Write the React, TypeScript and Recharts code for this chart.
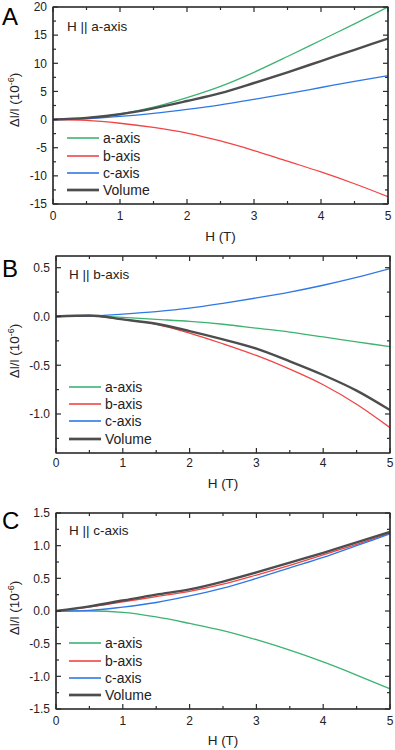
import React from "react";
import { LineChart, Line, XAxis, YAxis, Legend } from "recharts";

// ---------------------------------------------------------------------------
// Data
// ---------------------------------------------------------------------------

const fieldT = [0, 0.5, 1, 1.5, 2, 2.5, 3, 3.5, 4, 4.5, 5];
const xTicks = [0, 0.5, 1, 1.5, 2, 2.5, 3, 3.5, 4, 4.5, 5];

// Panel A: H || a-axis
const aAxisA = [0, 0.3, 1.0, 2.2, 3.9, 5.9, 8.4, 11.2, 14.1, 17.0, 20.0];
const bAxisA = [0, -0.15, -0.65, -1.4, -2.4, -3.8, -5.5, -7.4, -9.3, -11.4, -13.7];
const cAxisA = [0, 0.15, 0.55, 1.1, 1.8, 2.6, 3.6, 4.6, 5.7, 6.8, 7.8];
const volumeA = [0, 0.3, 0.95, 2.0, 3.3, 4.7, 6.5, 8.4, 10.4, 12.4, 14.4];
const yTicksA = [-15, -12.5, -10, -7.5, -5, -2.5, 0, 2.5, 5, 7.5, 10, 12.5, 15, 17.5, 20];

// Panel B: H || b-axis
const aAxisB = [0, 0.005, -0.01, -0.03, -0.05, -0.08, -0.12, -0.16, -0.21, -0.26, -0.31];
const bAxisB = [0, 0.005, -0.03, -0.08, -0.17, -0.28, -0.4, -0.54, -0.7, -0.9, -1.14];
const cAxisB = [0, 0.005, 0.025, 0.05, 0.085, 0.135, 0.19, 0.25, 0.32, 0.4, 0.49];
const volumeB = [0, 0.01, -0.03, -0.075, -0.15, -0.235, -0.33, -0.46, -0.6, -0.76, -0.96];
const yTicksB = [-1.25, -1, -0.75, -0.5, -0.25, 0, 0.25, 0.5];

// Panel C: H || c-axis
const aAxisC = [0, 0, -0.02, -0.09, -0.19, -0.3, -0.44, -0.6, -0.78, -0.98, -1.19];
const bAxisC = [0, 0.06, 0.14, 0.22, 0.3, 0.41, 0.55, 0.7, 0.86, 1.02, 1.19];
const cAxisC = [0, 0.01, 0.06, 0.13, 0.23, 0.35, 0.5, 0.66, 0.82, 1.0, 1.18];
const volumeC = [0, 0.07, 0.16, 0.25, 0.33, 0.45, 0.59, 0.74, 0.89, 1.05, 1.21];
const yTicksC = [-1.5, -1.25, -1, -0.75, -0.5, -0.25, 0, 0.25, 0.5, 0.75, 1, 1.25, 1.5];

const seriesInfo = [
  { key: "a", name: "a-axis", color: "#3cb371", width: 1.3 },
  { key: "b", name: "b-axis", color: "#f24444", width: 1.3 },
  { key: "c", name: "c-axis", color: "#2f78e4", width: 1.3 },
  { key: "v", name: "Volume", color: "#4d4d4d", width: 2.4 },
];

const buildRows = (a: number[], b: number[], c: number[], v: number[]) =>
  fieldT.map((h, i) => ({ h, a: a[i], b: b[i], c: c[i], v: v[i] }));

// ---------------------------------------------------------------------------
// Styling helpers
// ---------------------------------------------------------------------------

const FONT = "'Liberation Sans', Arial, Helvetica, sans-serif";
const FRAME = "#2b2b2b";
const TICK_MAJOR = 5;
const TICK_MINOR = 3;
const EDGE = 10; // size of the top / right frame axes

const isMajor = (v: number, step: number) =>
  Math.abs(v / step - Math.round(v / step)) < 1e-6;

const bottomTick = (p: any, step: number, dy: number) => {
  const v = p.payload.value;
  const major = isMajor(v, step);
  return (
    <g>
      <line x1={p.x} x2={p.x} y1={p.y} y2={p.y - (major ? TICK_MAJOR : TICK_MINOR)} stroke={FRAME} strokeWidth={1.2} />
      {major && (
        <text x={p.x} y={p.y + dy} textAnchor="middle" fontSize={12} fill="#222" fontFamily={FONT}>
          {v}
        </text>
      )}
    </g>
  );
};

const topTick = (p: any, step: number) => {
  const major = isMajor(p.payload.value, step);
  return (
    <line x1={p.x} x2={p.x} y1={p.y} y2={p.y + (major ? TICK_MAJOR : TICK_MINOR)} stroke={FRAME} strokeWidth={1.2} />
  );
};

const leftTick = (p: any, step: number, fmt: (v: number) => string) => {
  const v = p.payload.value;
  const major = isMajor(v, step);
  return (
    <g>
      <line x1={p.x} x2={p.x + (major ? TICK_MAJOR : TICK_MINOR)} y1={p.y} y2={p.y} stroke={FRAME} strokeWidth={1.2} />
      {major && (
        <text x={p.x - 6} y={p.y} dy="0.36em" textAnchor="end" fontSize={12} fill="#222" fontFamily={FONT}>
          {fmt(v)}
        </text>
      )}
    </g>
  );
};

const rightTick = (p: any, step: number) => {
  const major = isMajor(p.payload.value, step);
  return (
    <line x1={p.x} x2={p.x - (major ? TICK_MAJOR : TICK_MINOR)} y1={p.y} y2={p.y} stroke={FRAME} strokeWidth={1.2} />
  );
};

const LegendBox = () => (
  <div style={{ fontFamily: FONT, fontSize: 14, color: "#222" }}>
    {seriesInfo.map((s) => (
      <div key={s.key} style={{ display: "flex", alignItems: "center", height: 17.3 }}>
        <svg width={32} height={6}>
          <line x1={0} x2={32} y1={3} y2={3} stroke={s.color} strokeWidth={s.width + 0.3} />
        </svg>
        <span style={{ marginLeft: 4, lineHeight: 1 }}>{s.name}</span>
      </div>
    ))}
  </div>
);

// ---------------------------------------------------------------------------
// Panel
// ---------------------------------------------------------------------------

interface PanelProps {
  top: number;
  height: number;
  plotTop: number;
  plotRight: number;
  yWidth: number;
  xHeight: number;
  rows: ReturnType<typeof buildRows>;
  yDomain: [number, number];
  yTicks: number[];
  yStep: number;
  yFmt: (v: number) => string;
  xLabelDy: number;
  letter: string;
  letterBase: number;
  title: string;
  titleX: number;
  titleBase: number;
  legendLeft: number;
  legendTop: number;
  yLabelY: number;
  xLabelBase: number;
}

const Panel = (p: PanelProps) => {
  const plotLeft = p.yWidth;
  const plotBottom = p.height - p.xHeight;
  const axisLine = { stroke: FRAME, strokeWidth: 1.2 };
  return (
    <div style={{ position: "absolute", left: 0, top: p.top, width: 395, height: p.height }}>
      <LineChart
        width={395}
        height={p.height}
        data={p.rows}
        margin={{ top: p.plotTop - EDGE, right: 395 - p.plotRight - EDGE, bottom: 0, left: 0 }}
      >
        <XAxis
          dataKey="h"
          type="number"
          domain={[0, 5]}
          allowDataOverflow
          ticks={xTicks}
          interval={0}
          height={p.xHeight}
          tickSize={0}
          tickMargin={0}
          tickLine={false}
          axisLine={axisLine}
          tick={(t: any) => bottomTick(t, 1, p.xLabelDy)}
        />
        <XAxis
          xAxisId="top"
          orientation="top"
          dataKey="h"
          type="number"
          domain={[0, 5]}
          allowDataOverflow
          ticks={xTicks}
          interval={0}
          height={EDGE}
          tickSize={0}
          tickMargin={0}
          tickLine={false}
          axisLine={axisLine}
          tick={(t: any) => topTick(t, 1)}
        />
        <YAxis
          type="number"
          domain={p.yDomain}
          allowDataOverflow
          ticks={p.yTicks}
          interval={0}
          width={p.yWidth}
          tickSize={0}
          tickMargin={0}
          tickLine={false}
          axisLine={axisLine}
          tick={(t: any) => leftTick(t, p.yStep, p.yFmt)}
        />
        <YAxis
          yAxisId="right"
          orientation="right"
          type="number"
          domain={p.yDomain}
          allowDataOverflow
          ticks={p.yTicks}
          interval={0}
          width={EDGE}
          tickSize={0}
          tickMargin={0}
          tickLine={false}
          axisLine={axisLine}
          tick={(t: any) => rightTick(t, p.yStep)}
        />
        <Legend
          layout="horizontal"
          verticalAlign="middle"
          align="center"
          content={() => <LegendBox />}
          wrapperStyle={{ left: p.legendLeft, top: p.legendTop, width: 120, height: 70 }}
        />
        {/* invisible series so the top / right frame axes get a domain */}
        <Line
          xAxisId="top"
          yAxisId="right"
          dataKey="v"
          stroke="none"
          dot={false}
          activeDot={false}
          legendType="none"
          isAnimationActive={false}
        />
        {seriesInfo.map((s) => (
          <Line
            key={s.key}
            dataKey={s.key}
            name={s.name}
            type="monotone"
            stroke={s.color}
            strokeWidth={s.width}
            dot={false}
            activeDot={false}
            isAnimationActive={false}
          />
        ))}
      </LineChart>
      <svg
        width={395}
        height={p.height}
        style={{ position: "absolute", left: 0, top: 0, pointerEvents: "none" }}
        fontFamily={FONT}
      >
        {/* plot frame */}
        <rect
          x={plotLeft}
          y={p.plotTop}
          width={p.plotRight - plotLeft}
          height={plotBottom - p.plotTop}
          fill="none"
          stroke={FRAME}
          strokeWidth={1.2}
        />
        <text x={2} y={p.letterBase} fontSize={24} fill="#000">
          {p.letter}
        </text>
        <text x={p.titleX} y={p.titleBase} fontSize={13.5} fill="#222">
          {p.title}
        </text>
        <text
          x={19}
          y={p.yLabelY}
          transform={`rotate(-90 19 ${p.yLabelY})`}
          textAnchor="middle"
          fontSize={13.5}
          fill="#222"
        >
          Δl/l (10
          <tspan dy={-5} fontSize={9}>
            -6
          </tspan>
          <tspan dy={5}>)</tspan>
        </text>
        <text x={(plotLeft + p.plotRight) / 2} y={p.xLabelBase} textAnchor="middle" fontSize={13.5} fill="#222">
          H (T)
        </text>
      </svg>
    </div>
  );
};

const intFmt = (v: number) => String(v);
const oneDec = (v: number) => v.toFixed(1);

export default function App() {
  return (
    <div style={{ position: "absolute", left: 0, top: 0, width: 395, height: 750, background: "#fff" }}>
      <Panel
        top={0}
        height={247}
        plotTop={7}
        plotRight={388}
        yWidth={53}
        xHeight={43}
        rows={buildRows(aAxisA, bAxisA, cAxisA, volumeA)}
        yDomain={[-15, 20]}
        yTicks={yTicksA}
        yStep={5}
        yFmt={intFmt}
        xLabelDy={16}
        letter="A"
        letterBase={25}
        title="H || a-axis"
        titleX={67}
        titleBase={31}
        legendLeft={67}
        legendTop={129.6}
        yLabelY={100}
        xLabelBase={241}
      />
      <Panel
        top={247}
        height={250}
        plotTop={9}
        plotRight={390}
        yWidth={56}
        xHeight={44}
        rows={buildRows(aAxisB, bAxisB, cAxisB, volumeB)}
        yDomain={[-1.4, 0.62]}
        yTicks={yTicksB}
        yStep={0.5}
        yFmt={oneDec}
        xLabelDy={14}
        letter="B"
        letterBase={30}
        title="H || b-axis"
        titleX={69}
        titleBase={32}
        legendLeft={69}
        legendTop={131}
        yLabelY={104}
        xLabelBase={241}
      />
      <Panel
        top={497}
        height={253}
        plotTop={16}
        plotRight={390}
        yWidth={56}
        xHeight={41}
        rows={buildRows(aAxisC, bAxisC, cAxisC, volumeC)}
        yDomain={[-1.5, 1.5]}
        yTicks={yTicksC}
        yStep={0.5}
        yFmt={oneDec}
        xLabelDy={16}
        letter="C"
        letterBase={32}
        title="H || c-axis"
        titleX={69}
        titleBase={38}
        legendLeft={69}
        legendTop={137.7}
        yLabelY={111}
        xLabelBase={248}
      />
    </div>
  );
}
